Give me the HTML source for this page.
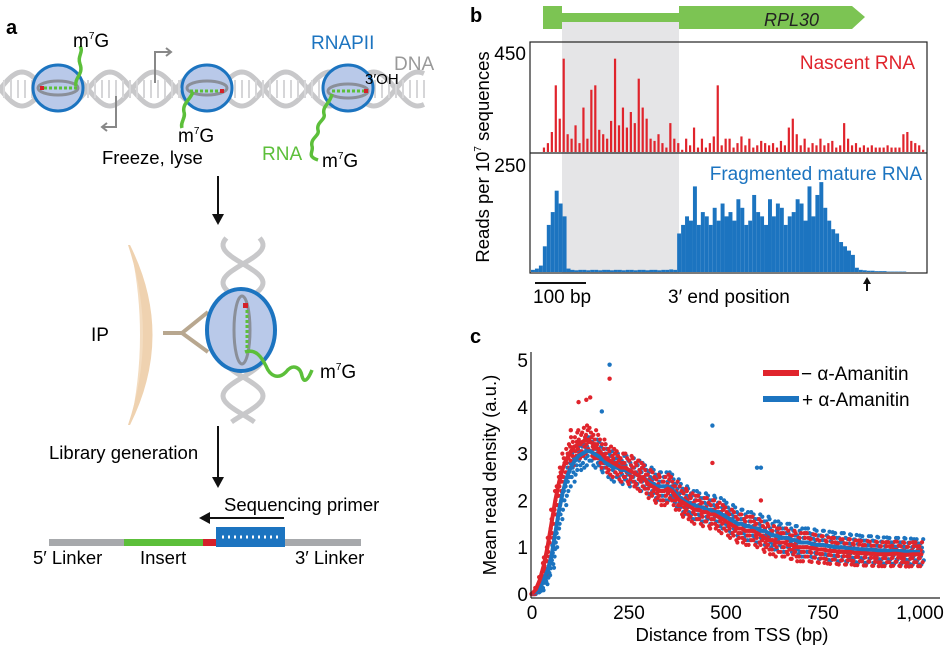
<!DOCTYPE html>
<html><head><meta charset="utf-8"><style>
body{margin:0;background:#fff;}
svg{display:block;font-family:"Liberation Sans",sans-serif;}
</style></head><body>
<svg id="fig" width="946" height="650" viewBox="0 0 946 650">
<!-- Panel a -->
<g id="panelA">
<text x="6" y="34" font-size="20" font-weight="bold">a</text>
<g id="helix"></g>
<g id="vhelix"></g>
<g>
<ellipse cx="58" cy="88" rx="25" ry="23" fill="#b9c9e9" stroke="#1c74c0" stroke-width="3"/>
<ellipse cx="58" cy="88" rx="20" ry="7" fill="none" stroke="#8a8f99" stroke-width="3"/>
<line x1="44" y1="88" x2="78" y2="88" stroke="#5cbf3a" stroke-width="3" stroke-dasharray="3,2"/>
<rect x="40" y="86" width="4" height="4" fill="#d4202a"/>
<path d="M76 86 C74 78 84 74 80 64 C77 56 84 52 80 46" fill="none" stroke="#5cbf3a" stroke-width="3.5"/>
</g>
<g>
<ellipse cx="207" cy="88" rx="25" ry="23" fill="#b9c9e9" stroke="#1c74c0" stroke-width="3"/>
<ellipse cx="207" cy="88" rx="20" ry="7" fill="none" stroke="#8a8f99" stroke-width="3"/>
<line x1="190" y1="91" x2="220" y2="91" stroke="#5cbf3a" stroke-width="3" stroke-dasharray="3,2"/>
<rect x="220" y="89" width="4" height="4" fill="#d4202a"/>
<path d="M193 92 C190 100 182 104 184 112 C186 118 180 122 182 128" fill="none" stroke="#5cbf3a" stroke-width="3.5"/>
</g>
<g>
<ellipse cx="348" cy="88" rx="25" ry="23" fill="#b9c9e9" stroke="#1c74c0" stroke-width="3"/>
<ellipse cx="348" cy="91" rx="20" ry="7" fill="none" stroke="#8a8f99" stroke-width="3"/>
<line x1="332" y1="91" x2="364" y2="91" stroke="#5cbf3a" stroke-width="3" stroke-dasharray="3,2"/>
<rect x="364" y="89" width="4" height="4" fill="#d4202a"/>
<path d="M332 94 C330 104 322 106 324 114 C326 120 316 122 318 130 C320 136 310 138 312 146 C314 152 306 156 318 160" fill="none" stroke="#5cbf3a" stroke-width="3.5"/>
</g>
<path d="M155 83 V52 H170 M166 48 L171 52 L166 56" fill="none" stroke="#888" stroke-width="2"/>
<path d="M116 96 V127 H103 M107 123 L102 127 L107 131" fill="none" stroke="#888" stroke-width="2"/>
<text x="73" y="47" font-size="19">m<tspan font-size="10" dy="-8">7</tspan><tspan dy="8">G</tspan></text>
<text x="178" y="142" font-size="19">m<tspan font-size="10" dy="-8">7</tspan><tspan dy="8">G</tspan></text>
<text x="322" y="167" font-size="19">m<tspan font-size="10" dy="-8">7</tspan><tspan dy="8">G</tspan></text>
<text x="262" y="160" font-size="19" fill="#5cbf3a">RNA</text>
<text x="311" y="49" font-size="19" fill="#1c74c0">RNAPII</text>
<text x="394" y="70" font-size="19" fill="#999">DNA</text>
<text x="365" y="84" font-size="15">3′OH</text>
<text x="102" y="164" font-size="18.5">Freeze, lyse</text>
<path d="M218 176 V222" stroke="#111" stroke-width="2"/><path d="M212 214 L218 225 L224 214 Z" fill="#111"/>
<path d="M130 245 Q172 335 130 425 Q150 335 130 245 Z" fill="#f3dcc0"/>
<path d="M130 245 Q175 335 130 425 L128 425 Q158 335 128 245 Z" fill="#efd2b0"/>
<path d="M163 333 H182 L208 312 M182 333 L208 352" fill="none" stroke="#b8a78f" stroke-width="4"/>
<g>
<ellipse cx="241" cy="330" rx="34" ry="41" fill="#b9c9e9" stroke="#1c74c0" stroke-width="4"/>
<ellipse cx="242" cy="330" rx="8" ry="34" fill="none" stroke="#8a8f99" stroke-width="3"/>
<line x1="247" y1="310" x2="247" y2="352" stroke="#5cbf3a" stroke-width="3" stroke-dasharray="3,2"/>
<rect x="243" y="303" width="5" height="5" fill="#d4202a"/>
<path d="M245 352 C256 348 262 358 266 366 C270 376 278 380 286 372 C292 364 300 366 302 376 C304 384 308 380 312 370" fill="none" stroke="#5cbf3a" stroke-width="3.5"/>
</g>
<text x="91" y="341" font-size="19">IP</text>
<text x="320" y="378" font-size="19">m<tspan font-size="10" dy="-8">7</tspan><tspan dy="8">G</tspan></text>
<text x="49" y="459" font-size="18.5">Library generation</text>
<path d="M218 426 V484" stroke="#111" stroke-width="2"/><path d="M212 477 L218 488 L224 477 Z" fill="#111"/>
<text x="224" y="511" font-size="18.5">Sequencing primer</text>
<path d="M284 518 H206" stroke="#111" stroke-width="2"/><path d="M210 512 L199 518 L210 524 Z" fill="#111"/>
<g>
<rect x="49" y="539" width="312" height="7" fill="#a7a9ac"/>
<rect x="124" y="539" width="80" height="7" fill="#5cbf3a"/>
<rect x="203" y="539" width="13" height="7" fill="#d4202a"/>
<rect x="216" y="527" width="69" height="20" fill="#1c74c0"/>
<line x1="222" y1="537" x2="282" y2="537" stroke="#fff" stroke-width="3" stroke-dasharray="2,4"/>
</g>
<text x="33" y="564" font-size="18.5">5′ Linker</text>
<text x="140" y="564" font-size="18.5">Insert</text>
<text x="295" y="564" font-size="18.5">3′ Linker</text>
</g>
<!-- Panel b -->
<g id="panelB">
<text x="470" y="22" font-size="20" font-weight="bold">b</text>
<rect x="562" y="15" width="117" height="258" fill="#e5e5e7"/>
<path d="M543 6 H562 V13 H679 V6 H852 L865 17 L852 29 H679 V22 H562 V29 H543 Z" fill="#7cc453"/>
<text x="764" y="26" font-size="18" font-style="italic" fill="#222">RPL30</text>
<g id="bars"></g>
<rect x="530" y="42" width="397" height="231" fill="none" stroke="#222" stroke-width="1.2"/>
<line x1="530" y1="153" x2="927" y2="153" stroke="#222" stroke-width="1.2"/>
<text x="526" y="60" font-size="19" text-anchor="end">450</text>
<text x="526" y="172" font-size="19" text-anchor="end">250</text>
<text transform="translate(489,157) rotate(-90)" font-size="18.5" text-anchor="middle">Reads per 10<tspan font-size="10" dy="-8">7</tspan><tspan dy="8"> sequences</tspan></text>
<text x="915" y="69" font-size="19" fill="#e0242c" text-anchor="end">Nascent RNA</text>
<text x="922" y="180" font-size="19" fill="#1c74c0" text-anchor="end">Fragmented mature RNA</text>
<line x1="535" y1="283" x2="586" y2="283" stroke="#111" stroke-width="2"/>
<text x="533" y="303" font-size="19">100 bp</text>
<text x="668" y="303" font-size="19">3′ end position</text>
<path d="M867 291 V281" stroke="#111" stroke-width="2"/><path d="M863 284 L867 277 L871 284 Z" fill="#111"/>
</g>
<!-- Panel c -->
<g id="panelC">
<text x="470" y="343" font-size="20" font-weight="bold">c</text>
<g id="scatter"></g>
<g id="axesC"></g>
<text transform="translate(496,475) rotate(-90)" font-size="18.5" text-anchor="middle">Mean read density (a.u.)</text>
<text x="732" y="641" font-size="18.5" text-anchor="middle">Distance from TSS (bp)</text>
<line x1="763" y1="373" x2="799" y2="373" stroke="#e0242c" stroke-width="6"/>
<text x="801" y="380" font-size="19">− α-Amanitin</text>
<line x1="763" y1="399" x2="799" y2="399" stroke="#1c74c0" stroke-width="6"/>
<text x="802" y="406" font-size="19">+ α-Amanitin</text>
</g>
</svg>
<script>
// ---- Panel b data ----
const nascentVals=[0,0,0,20,40,90,300,150,420,80,60,120,40,200,60,280,300,100,80,60,140,420,120,200,110,180,130,330,200,150,60,50,80,40,20,130,60,40,10,60,30,110,20,60,20,40,70,300,30,60,60,20,40,70,30,60,20,30,50,40,30,40,20,50,30,110,150,80,30,60,20,40,30,60,30,40,50,20,30,130,60,30,40,20,30,20,30,20,20,20,30,20,20,20,80,90,50,40,30,10];
const matureVals=[5,8,15,60,110,140,190,160,130,8,5,4,5,5,4,5,5,4,5,5,4,5,5,4,5,5,4,5,5,4,5,5,4,5,5,6,5,90,110,130,120,200,110,140,130,110,150,120,160,130,140,120,170,150,110,120,180,140,130,110,170,130,160,150,110,130,140,170,160,120,200,130,180,210,150,120,100,90,70,60,50,40,10,5,4,3,3,2,2,2,1,1,1,1,1,0,0,0,0,0];
// ---- Panel c data ----
const distances=[];for(let i=0;i<=100;i++)distances.push(i*10);
const minusAmanitin=[0,0.1,0.3,0.6,1.0,1.5,2.0,2.4,2.7,2.9,3.05,3.15,3.2,3.25,3.3,3.25,3.2,3.1,3.0,2.9,2.85,2.8,2.75,2.7,2.7,2.65,2.6,2.55,2.5,2.45,2.35,2.3,2.25,2.2,2.2,2.25,2.2,2.1,2.0,1.95,1.9,1.85,1.8,1.8,1.75,1.75,1.7,1.7,1.65,1.6,1.55,1.5,1.45,1.4,1.4,1.35,1.35,1.35,1.3,1.25,1.2,1.15,1.15,1.1,1.1,1.1,1.05,1.05,1.0,1.0,1.0,1.0,0.98,0.97,0.95,0.95,0.93,0.92,0.92,0.9,0.9,0.9,0.9,0.88,0.88,0.87,0.87,0.86,0.86,0.85,0.85,0.85,0.85,0.86,0.86,0.85,0.84,0.84,0.85,0.85,0.85];
const plusAmanitin=[0,0.05,0.1,0.3,0.5,0.8,1.3,1.8,2.2,2.5,2.7,2.85,2.95,3.0,3.05,3.05,3.0,2.95,2.9,2.8,2.75,2.7,2.7,2.65,2.65,2.6,2.6,2.55,2.5,2.45,2.4,2.35,2.3,2.3,2.3,2.3,2.25,2.15,2.05,2.0,1.95,1.9,1.9,1.85,1.85,1.8,1.8,1.75,1.75,1.7,1.65,1.6,1.55,1.5,1.5,1.45,1.45,1.4,1.4,1.35,1.35,1.3,1.25,1.25,1.2,1.2,1.2,1.15,1.15,1.1,1.1,1.1,1.08,1.05,1.05,1.05,1.03,1.02,1.0,1.0,1.0,0.98,0.97,0.97,0.96,0.95,0.95,0.95,0.94,0.93,0.93,0.93,0.92,0.92,0.92,0.92,0.91,0.91,0.9,0.9,0.9];
const outlierX=[200,200,465,465,580,590,590,150,140,120,100,180];
const outlierY=[4.9,4.6,3.6,2.8,2.7,2.7,2.0,4.2,4.15,4.1,3.5,3.9];
const outlierSeries=['plus','minus','plus','minus','plus','plus','minus','minus','minus','minus','minus','plus'];
const yTicks=[0,1,2,3,4,5];
const xTicks=[0,250,500,750,1000];
const xTickLabels=['0','250','500','750','1,000'];

const NS='http://www.w3.org/2000/svg';
function mk(tag,attrs,parent){const e=document.createElementNS(NS,tag);for(const k in attrs)e.setAttribute(k,attrs[k]);parent.appendChild(e);return e;}

const bars=document.getElementById('bars');
const bx=i=>531+i*3.95;
const yN=v=>152-v*(100/450);
const yM=v=>272-v*(107/250);
nascentVals.forEach((v,i)=>{if(v<=0)return;
 const r=mk('rect',{x:bx(i),y:yN(v),width:2.2,height:152-yN(v),fill:'#e0242c'},bars);
 
 });
matureVals.forEach((v,i)=>{if(v<=0)return;
 const r=mk('rect',{x:bx(i),y:yM(v),width:3.95,height:272-yM(v),fill:'#1c74c0'},bars);
 
 });

const sx=d=>532+d*0.388;
const sy=v=>594-v*46.8;
const sc=document.getElementById('scatter');
const offs=[-0.3,-0.2,-0.1,0,0.1,0.2,0.3];
const shifts=[0.5,3.2,1.4,3.8,0.9,2.6,1.9];
function drawSeries(vals,color,name,shift){
 vals.forEach((v,i)=>{offs.forEach((o,k)=>{
  const c=mk('circle',{cx:sx(distances[i]+shift)+shifts[(k+i)%7],cy:sy(Math.max(0,v+o*Math.min(1,v))),r:2.1,fill:color},sc);
  
  });});
}
drawSeries(plusAmanitin,'#1c74c0','plus-amanitin',0);
drawSeries(minusAmanitin,'#e0242c','minus-amanitin',-3);
outlierX.forEach((x,i)=>{
 const c=mk('circle',{cx:sx(x),cy:sy(outlierY[i]),r:2.2,fill:outlierSeries[i]==='plus'?'#1c74c0':'#e0242c'},sc);
 
 });
function line(vals,color,w,name){
 const p=mk('path',{d:vals.map((v,i)=>(i?'L':'M')+sx(distances[i])+' '+sy(v)).join(' '),fill:'none',stroke:color,'stroke-width':w},sc);
 
 }
line(plusAmanitin,'#1c74c0',4,'plus-amanitin-trend');
line(minusAmanitin,'#e0242c',4,'minus-amanitin-trend');

const ax=document.getElementById('axesC');
mk('line',{x1:531,y1:598,x2:940,y2:598,stroke:'#222','stroke-width':1.2},ax);
mk('line',{x1:531,y1:352,x2:531,y2:598,stroke:'#222','stroke-width':1.2},ax);
yTicks.forEach(t=>{const e=mk('text',{x:528,y:sy(t)+7,'font-size':19,'text-anchor':'end'},ax);e.textContent=t;
 
 });
xTicks.forEach((t,i)=>{const e=mk('text',{x:sx(t),y:619,'font-size':19,'text-anchor':'middle'},ax);e.textContent=xTickLabels[i];
 
 });

const h=document.getElementById('helix');
let d1='',d2='';for(let x=0;x<=425;x+=2){const y1=89+17*Math.sin(x/14),y2=89-17*Math.sin(x/14);d1+=(x?'L':'M')+x+' '+y1;d2+=(x?'L':'M')+x+' '+y2;}
mk('path',{d:d1,fill:'none',stroke:'#c8c8ca','stroke-width':5},h);
mk('path',{d:d2,fill:'none',stroke:'#c8c8ca','stroke-width':5},h);
for(let x=4;x<425;x+=7)mk('line',{x1:x,y1:80,x2:x,y2:98,stroke:'#d6d6d8','stroke-width':2},h);
const vh=document.getElementById('vhelix');
let v1='',v2='';for(let y=238;y<=422;y+=2){const a=243+20*Math.sin(y/12),b=243-20*Math.sin(y/12);v1+=(y>238?'L':'M')+a+' '+y;v2+=(y>238?'L':'M')+b+' '+y;}
mk('path',{d:v1,fill:'none',stroke:'#c8c8ca','stroke-width':5},vh);
mk('path',{d:v2,fill:'none',stroke:'#c8c8ca','stroke-width':5},vh);
</script>
</body></html>
